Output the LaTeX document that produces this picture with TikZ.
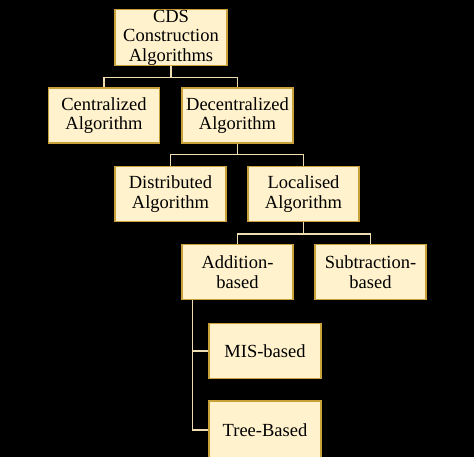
\documentclass[tikz,border=0pt]{standalone}
\usepackage{fontspec}
\setmainfont{Liberation Serif}
\usepackage{xcolor}
\usetikzlibrary{positioning}
\definecolor{boxfill}{HTML}{FFF2CC}
\definecolor{boxline}{HTML}{C9A13A}
\definecolor{linkcol}{HTML}{EEDDB0}
\begin{document}
\begin{tikzpicture}[x=1pt, y=-1pt,
  box/.style={draw=boxline, fill=boxfill, line width=1.2pt, minimum width=111pt, minimum height=55pt,
    inner sep=0pt, align=center, font=\fontsize{18.5}{19.5}\selectfont},
  link/.style={draw=linkcol, line width=1.3pt}
]
  \fill[black] (0,0) rectangle (474,457);
  \useasboundingbox (0,0) rectangle (474,457);

  \node[box, minimum width=112pt] (cds) at (171,37.5) {CDS\\Construction\\Algorithms};
  \node[box] (cent) at (104,115.5) {Centralized\\Algorithm};
  \node[box] (decent) at (237.5,115.5) {Decentralized\\Algorithm};
  \node[box] (dist) at (170.5,194) {Distributed\\Algorithm};
  \node[box] (local) at (303.5,194) {Localised\\Algorithm};
  \node[box] (add) at (237.5,272) {Addition-\\based};
  \node[box] (sub) at (370.5,272) {Subtraction-\\based};
  \node[box, minimum width=112pt] (mis) at (265,351) {MIS-based};
  \node[box, minimum width=112pt, minimum height=58pt] (tree) at (265,430) {Tree-Based};

  \draw[link] (cds.south) -- +(0,12) -| (cent.north);
  \draw[link] (cds.south) -- +(0,12) -| (decent.north);
  \draw[link] (decent.south) -- +(0,11) -| (dist.north);
  \draw[link] (decent.south) -- +(0,11) -| (local.north);
  \draw[link] (local.south) -- +(0,12) -| (add.north);
  \draw[link] (local.south) -- +(0,12) -| (sub.north);
  \draw[link] ([xshift=11pt]add.south west) |- (mis.west);
  \draw[link] ([xshift=11pt]add.south west) |- (tree.west);
\end{tikzpicture}
\end{document}
